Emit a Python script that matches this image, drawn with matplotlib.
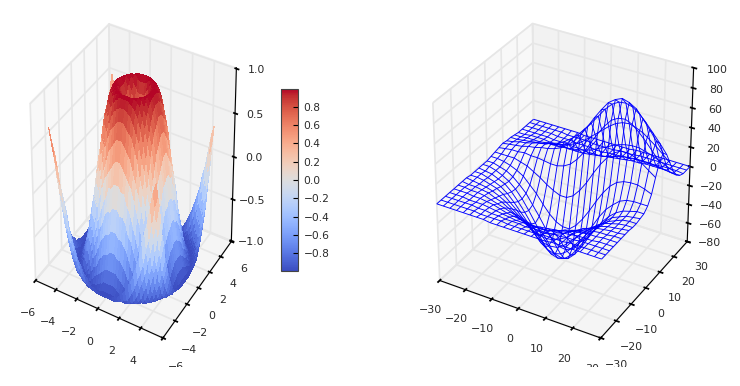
import numpy as np
import matplotlib
matplotlib.use("Agg")
import matplotlib.pyplot as plt
from matplotlib.patches import Rectangle
from mpl_toolkits.mplot3d import Axes3D  # noqa

# Left surface: grid axis and height as a function of distance from centre (read-off table, 1/16 steps)
surface_axis = np.arange(-5, 5, 0.25)
radial_step = 0.0625
radial_height = [0,.06,.12,.19,.25,.31,.37,.42,.48,.53,.59,.63,.68,.73,.77,.81,.84,.87,.90,.93,.95,.97,.98,.99,1.0,1.0,1.0,.99,
                 .98,.97,.95,.93,.91,.88,.85,.82,.78,.74,.69,.65,.60,.55,.49,.44,.38,.32,.26,.20,.14,.08,.02,
                 -.05,-.11,-.17,-.23,-.29,-.35,-.41,-.47,-.52,-.57,-.62,-.67,-.71,-.76,-.80,-.83,-.87,-.89,-.92,-.94,-.96,-.98,-.99,
                 -1.0,-1.0,-1.0,-1.0,-.99,-.98,-.96,-.94,-.92,-.89,-.86,-.83,-.79,-.75,-.71,-.66,-.61,-.56,-.51,-.46,-.40,-.34,-.28,-.22,-.16,-.10,-.03,
                 .03,.09,.16,.22,.28,.34,.40,.45,.51,.56,.61,.66,.71,.74]

# Right wireframe: heights estimated on a 25x25 grid
wire_axis = [-30 + 2.5 * i for i in range(25)]
wire_z = [
 [0,0,0,0,0,0,0,0,-1,-1,-1,-1,-1,-1,-1,-1,-1,0,0,0,0,0,0,0,0],
 [0,0,0,0,0,0,-1,-1,-1,-1,-2,-2,-2,-2,-2,-1,-1,-1,-1,0,0,0,0,0,0],
 [0,0,0,0,0,-1,-1,-2,-2,-3,-3,-3,-4,-3,-3,-3,-2,-2,-1,-1,0,0,0,0,0],
 [0,0,0,-1,-1,-1,-2,-3,-4,-5,-6,-6,-6,-6,-6,-5,-4,-3,-2,-1,-1,-1,0,0,0],
 [0,0,0,-1,-1,-2,-3,-5,-7,-8,-9,-10,-11,-10,-9,-8,-7,-5,-3,-2,-1,-1,0,0,0],
 [0,0,-1,-1,-2,-4,-6,-8,-10,-13,-15,-17,-17,-17,-15,-13,-10,-8,-6,-4,-2,-1,-1,0,0],
 [0,-1,-1,-2,-3,-6,-8,-12,-16,-20,-23,-25,-26,-25,-23,-20,-16,-12,-8,-6,-3,-2,-1,-1,0],
 [0,-1,-2,-3,-5,-8,-12,-17,-22,-28,-32,-35,-36,-35,-32,-28,-22,-17,-12,-8,-5,-3,-2,-1,0],
 [-1,-1,-2,-4,-6,-10,-16,-22,-29,-36,-43,-47,-48,-47,-43,-36,-29,-22,-16,-10,-6,-4,-2,-1,-1],
 [-1,-1,-3,-5,-8,-13,-20,-28,-36,-45,-53,-58,-60,-58,-53,-45,-36,-27,-19,-13,-8,-5,-2,-1,-1],
 [-1,-2,-3,-6,-9,-15,-23,-32,-42,-52,-61,-67,-69,-67,-61,-52,-41,-31,-22,-14,-8,-5,-2,-1,0],
 [-1,-1,-3,-6,-10,-16,-24,-34,-45,-56,-65,-71,-73,-71,-64,-54,-42,-31,-21,-13,-7,-3,-1,1,1],
 [-1,-1,-3,-5,-9,-15,-22,-32,-42,-53,-62,-67,-68,-65,-57,-46,-34,-22,-12,-5,1,4,5,5,5],
 [0,0,-1,-3,-6,-10,-17,-24,-33,-41,-47,-50,-50,-44,-35,-24,-12,-1,8,14,17,18,18,16,13],
 [1,1,1,1,-1,-3,-7,-11,-16,-20,-23,-23,-19,-11,-1,11,22,31,38,42,42,40,36,31,26],
 [2,3,4,4,5,4,4,3,2,2,4,8,15,24,36,47,57,65,69,70,67,61,54,46,38],
 [3,4,5,6,8,9,11,12,14,17,22,28,37,47,58,68,77,82,85,83,79,71,62,53,43],
 [2,3,5,6,8,10,11,14,16,20,25,31,39,47,56,65,72,76,77,75,70,63,55,47,38],
 [2,2,3,4,5,6,8,9,11,13,16,20,26,32,38,44,49,52,53,51,48,43,38,32,26],
 [1,1,2,2,2,3,3,3,4,5,6,8,10,14,17,21,24,26,27,27,25,23,20,17,14],
 [0,0,1,1,1,0,0,0,-1,-1,-1,0,1,2,4,6,8,9,10,10,10,9,8,7,6],
 [0,0,0,0,0,-1,-1,-1,-2,-2,-3,-3,-3,-2,-1,0,1,2,2,3,3,3,3,2,2],
 [0,0,0,0,0,-1,-1,-1,-2,-2,-2,-3,-3,-2,-2,-1,-1,0,0,0,0,1,1,1,0],
 [0,0,0,0,0,0,-1,-1,-1,-1,-2,-2,-2,-2,-1,-1,-1,0,0,0,0,0,0,0,0],
 [0,0,0,0,0,0,0,0,-1,-1,-1,-1,-1,-1,-1,-1,0,0,0,0,0,0,0,0,0],
]

left_xy_ticks = [-6, -4, -2, 0, 2, 4, 6]
left_z_ticks = [-1.0, -0.5, 0.0, 0.5, 1.0]
right_xy_ticks = [-30, -20, -10, 0, 10, 20, 30]
right_z_ticks = [-80, -60, -40, -20, 0, 20, 40, 60, 80, 100]
bar_ticks = [-0.8, -0.6, -0.4, -0.2, 0.0, 0.2, 0.4, 0.6, 0.8]

W, H = 740, 386
TXT = "#2a2a2a"
plt.rcParams["font.size"] = 7.9
plt.rcParams["font.family"] = "DejaVu Sans"

fig = plt.figure(figsize=(W / 100, H / 100), dpi=100)

def rect(x0, y0, x1, y1):
    return [x0 / W, 1 - y1 / H, (x1 - x0) / W, (y1 - y0) / H]

def style(ax):
    ax.apply_aspect = lambda position=None: None  # stretch the cube to the axes box
    ax.set_box_aspect((1, 1, 1), zoom=0.947)
    for axis in (ax.xaxis, ax.yaxis, ax.zaxis):
        axis._axinfo["grid"].update(color=(0.9, 0.9, 0.9, 1), linewidth=1.2)
        axis._axinfo["tick"].update(inward_factor=0.2, outward_factor=0.1,
                                    linewidth={True: 1.3, False: 0.5})
        axis._axinfo["axisline"].update(color=(0.5, 0.5, 0.5, 1), linewidth=1.0)
        axis.set_tick_params(colors="black", labelcolor=TXT, pad=4)
        axis.pane.set_edgecolor((0.9, 0.9, 0.9, 1))

# Left: surface
ax1 = fig.add_axes(rect(1, 0, 262, 360), projection="3d")
style(ax1)
SX, SY = np.meshgrid(surface_axis, surface_axis)
idx = np.rint(np.hypot(SX, SY) / radial_step).astype(int)
SZ = np.asarray(radial_height)[idx]
surf = ax1.plot_surface(SX, SY, SZ, rstride=1, cstride=1, cmap="coolwarm",
                        linewidth=0, antialiased=False)
ax1.set_xlim(-6, 6, view_margin=0)
ax1.set_ylim(-6, 6, view_margin=0)
ax1.set_zlim(-1.01, 1.01, view_margin=0)
ax1.set_xticks(left_xy_ticks)
ax1.set_yticks(left_xy_ticks)
ax1.set_zticks(left_z_ticks)

cax = fig.add_axes(rect(281, 89, 298, 271))
cb = fig.colorbar(surf, cax=cax)
cb.set_ticks(bar_ticks)
cax.tick_params(direction="in", length=3.5, width=0.8, labelsize=7.7, labelcolor=TXT, pad=4)
cb.outline.set_edgecolor("#444444")
cb.outline.set_linewidth(0.8)

# Right: wireframe
ax2 = fig.add_axes(rect(396, 0, 726, 360), projection="3d")
style(ax2)
WX, WY = np.meshgrid(wire_axis, wire_axis)
ax2.plot_wireframe(WX, WY, np.asarray(wire_z, dtype=float), rstride=1, cstride=1,
                   color="#0000ff", linewidth=0.65)
ax2.set_xlim(-30, 30, view_margin=0)
ax2.set_ylim(-30, 30, view_margin=0)
ax2.set_zlim(-80, 100, view_margin=0)
ax2.set_xticks(right_xy_ticks)
ax2.set_yticks(right_xy_ticks)
ax2.set_zticks(right_z_ticks)

# Reference is cropped just below the lowest tick labels
fig.add_artist(Rectangle((0, 0), 1, (H - 367) / H, transform=fig.transFigure,
                         facecolor="white", edgecolor="none", zorder=20))

fig.savefig("out.png", dpi=100)
